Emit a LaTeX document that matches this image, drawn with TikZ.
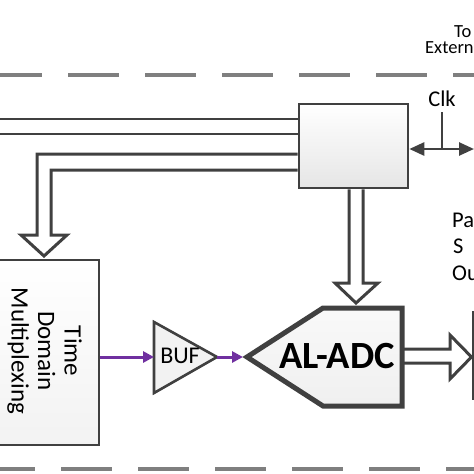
\documentclass[tikz,border=0pt]{standalone}
\usepackage{fontspec}
\setmainfont{Carlito}
\usetikzlibrary{arrows.meta,calc}
\definecolor{lc}{HTML}{404040}
\definecolor{dc}{HTML}{7F7F7F}
\definecolor{pc}{HTML}{7030A0}
\tikzset{
  wire/.style={draw=lc, line width=2.6pt},
  hollow/.style={draw=lc, line width=3pt, fill=white, line join=miter},
  blockbox/.style={draw=lc, line width=2.6pt, inner sep=0pt},
  dashline/.style={draw=dc, line width=3.5pt, dash pattern=on 51pt off 26pt},
  sig/.style={draw=pc, line width=3pt, -{Triangle[length=11pt,width=11pt]}},
  clkarrow/.style={draw=lc, line width=2.6pt, {Triangle[length=15pt,width=13pt]}-{Triangle[length=15pt,width=13pt]}},
  txt/.style={inner sep=0pt, text=black},
}
\begin{document}
\begin{tikzpicture}[x=1pt,y=-1pt]
\useasboundingbox (0,0) rectangle (474,474);
\clip (0,0) rectangle (474,474);

% dashed boundaries
\draw[dashline] (-9,75) -- (490,75);
\draw[dashline] (-16,469) -- (490,469);

% top text (cut off at the right)
\node[txt, anchor=base west, font=\fontsize{18.5}{20}\selectfont] (to) at (454,37.5) {To};
\node[txt, anchor=base west, font=\fontsize{18.5}{20}\selectfont] (ext) at (425,53.5) {External};

% control box
\node[blockbox, minimum width=109pt, minimum height=84pt, top color=white, bottom color=gray!20] (ctrl) at (353.5,146) {};

% lines from the left into control box
\coordinate (l1) at (0,119);
\coordinate (l2) at (0,134);
\draw[wire] (l1) -- (l1 -| ctrl.west);
\draw[wire] (l2) -- (l2 -| ctrl.west);

% Time domain multiplexing block
\node[blockbox, minimum width=110pt, minimum height=185pt, top color=white, bottom color=gray!10] (tdm) at (44,352.5) {};
\node[txt, rotate=-90, align=center, font=\fontsize{25}{26.5}\selectfont] (tdmtext) at (44.5,351) {Time\\Domain\\Multiplexing};

% hollow arrow from control box to TDM
\draw[hollow] (ctrl.west |- 0,154) -- (37,154) -- (37,235) -- (21,235) -- (44,256) -- (67,235) -- (51,235) -- (51,170) -- (ctrl.west |- 0,170);

% Clk
\node[txt, anchor=base, font=\fontsize{22.5}{24}\selectfont] (clk) at (442,106) {Clk};
\coordinate (clkj) at (442,149);
\coordinate (clkr) at (474,149);
\draw[wire] (clkj) -- (clkj |- 0,112);
\draw[clkarrow] (ctrl.east |- clkj) -- (clkr);

% right side text (cut off)
\node[txt, anchor=base west, font=\fontsize{22.5}{24}\selectfont] (par) at (452,227) {Parallel};
\node[txt, anchor=base west, font=\fontsize{22.5}{24}\selectfont] (ser) at (453,253) {S};
\node[txt, anchor=base west, font=\fontsize{22.5}{24}\selectfont] (out) at (452,280) {Output};

% output block (mostly outside)
\node[draw=lc, line width=3pt, fill=white, minimum width=94pt, minimum height=86pt, inner sep=0pt] (outblk) at (520,355) {};

% hollow arrow control -> ADC
\draw[hollow] ($(ctrl.south)+(-4.5,0)$) -- (349,283) -- (335,283) -- (356,303) -- (378,283) -- (363,283) -- ($(ctrl.south)+(9.5,0)$);

% hollow output arrow ADC -> output block
\draw[hollow] (400,349) -- (450,349) -- (450,335) -- (outblk.west |- 0,357) -- (450,379) -- (450,363) -- (400,363);

% BUF
\coordinate (bufin) at (154,357);
\coordinate (bufout) at (217,357);
\draw[draw=lc, line width=2.6pt, fill=gray!10, line join=miter] (154,322) -- (bufout) -- (154,393) -- cycle;
\node[txt, font=\fontsize{24}{26}\selectfont] (buf) at (180,356) {BUF};

% ADC
\coordinate (adcin) at (243,357);
\draw[draw=lc, line width=5pt, top color=gray!5, bottom color=gray!12, line join=miter] (247,357) -- (323,308) -- (402,308) -- (402,406) -- (323,406) -- cycle;
\node[txt, font=\bfseries\fontsize{38.5}{40}\selectfont] (adc) at (337,356) {AL-ADC};

% purple signal arrows
\draw[sig] (tdm.east |- bufin) -- (bufin);
\draw[sig] (bufout) -- (adcin);
\end{tikzpicture}
\end{document}
